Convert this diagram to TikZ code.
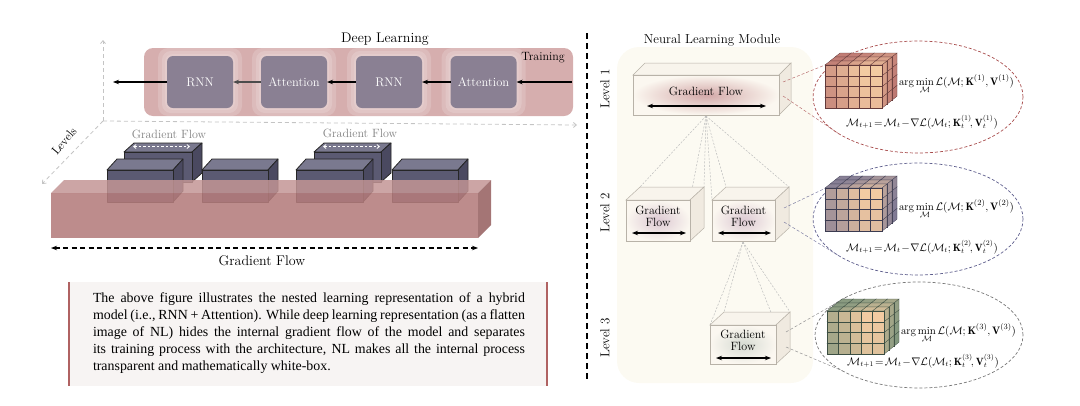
\documentclass[tikz,border=0pt]{standalone}
\usepackage{fontspec}
\usepackage{amsmath}
\newfontfamily\parafont{Liberation Serif}
\usetikzlibrary{arrows.meta,calc,shapes.geometric}
\definecolor{bandpink}{HTML}{D6AEAE}
\definecolor{boxgray}{HTML}{8A8093}
\definecolor{slabfront}{HTML}{B47C7C}
\definecolor{slabtop}{HTML}{C39595}
\definecolor{slabside}{HTML}{9A6666}
\definecolor{blkfront}{HTML}{5B5A72}
\definecolor{blktop}{HTML}{7A798F}
\definecolor{blkside}{HTML}{4A4960}
\definecolor{axisgray}{HTML}{C4C4C4}
\definecolor{parabg}{HTML}{F7F4F3}
\definecolor{parabar}{HTML}{B06262}
\definecolor{panelbg}{HTML}{FCFAF2}
\definecolor{lvedge}{HTML}{B8B2A8}
\definecolor{lvtop}{HTML}{F8F4EC}
\definecolor{lvside}{HTML}{F0EAE0}
\definecolor{lvout}{HTML}{FBF7F0}
\definecolor{lvoneC}{HTML}{D3A8A8}
\definecolor{lvtwoC}{HTML}{DCC8D2}
\definecolor{lvthreeC}{HTML}{D6DBD3}
\definecolor{ellred}{HTML}{A84C4C}
\definecolor{ellblue}{HTML}{5E5E8C}
\definecolor{ellgray}{HTML}{777777}
\definecolor{peach}{HTML}{F3CBA2}
\definecolor{tintred}{HTML}{B46A6A}
\definecolor{tintblue}{HTML}{6C6C92}
\definecolor{tintgreen}{HTML}{6E8E78}
\definecolor{fanc}{HTML}{BDBDBD}

\newcommand{\lvbox}[8]{%
 \coordinate (#1-ftl) at (#2,#3);
 \coordinate (#1-ftr) at (#2+#4,#3);
 \coordinate (#1-fbr) at (#2+#4,#3+#5);
 \coordinate (#1-fbl) at (#2,#3+#5);
 \coordinate (#1-btl) at (#2+#6,#3-#7);
 \coordinate (#1-btr) at (#2+#4+#6,#3-#7);
 \coordinate (#1-bbr) at (#2+#4+#6,#3+#5-#7);
 \coordinate (#1-bc) at (#2+#4/2,#3+#5);
 \filldraw[lvedge,fill=lvtop,line width=.5pt] (#1-ftl)--(#1-btl)--(#1-btr)--(#1-ftr)--cycle;
 \filldraw[lvedge,fill=lvside,line width=.5pt] (#1-ftr)--(#1-btr)--(#1-bbr)--(#1-fbr)--cycle;
 \shade[inner color=#8,outer color=lvout] (#1-ftl) rectangle (#1-fbr);
 \draw[lvedge,line width=.5pt] (#1-ftl) rectangle (#1-fbr);
}
\newcommand{\darkblock}[7]{%
 \coordinate (#1-ftl) at (#2,#3);
 \coordinate (#1-ftr) at (#2+#4,#3);
 \coordinate (#1-fbr) at (#2+#4,#3+#5);
 \coordinate (#1-btl) at (#2+#6,#3-#7);
 \coordinate (#1-btr) at (#2+#4+#6,#3-#7);
 \coordinate (#1-bbr) at (#2+#4+#6,#3+#5-#7);
 \filldraw[blkedge,fill=blktop] (#1-ftl)--(#1-btl)--(#1-btr)--(#1-ftr)--cycle;
 \filldraw[blkedge,fill=blkside] (#1-ftr)--(#1-btr)--(#1-bbr)--(#1-fbr)--cycle;
 \filldraw[blkedge,fill=blkfront] (#1-ftl) rectangle (#1-fbr);
}
\newcommand{\cubestack}[4]{%
 \coordinate (#4) at (#1,#2);
 \foreach \l in {2,1,0}{
  \foreach \r in {3,2,1,0}{
   \foreach \c in {0,...,4}{
    \pgfmathsetmacro{\X}{#1+\c*11.4+\l*5}
    \pgfmathsetmacro{\Y}{#2+\r*10.8-\l*4}
    \pgfmathtruncatemacro{\pp}{min(70,max(0,48-17*\c)+5*\r+15*\l)}
    \pgfmathtruncatemacro{\pt}{min(80,\pp+28)}
    \pgfmathtruncatemacro{\ps}{min(85,\pp+42)}
    \filldraw[draw=#3!55!black,line width=.25pt,fill=#3!\pt!peach] (\X,\Y) -- ++(5,-4) -- ++(11.4,0) -- ++(-5,4) -- cycle;
    \filldraw[draw=#3!55!black,line width=.25pt,fill=#3!\ps!peach] (\X+11.4,\Y) -- ++(5,-4) -- ++(0,10.8) -- ++(-5,4) -- cycle;
    \filldraw[draw=#3!55!black,line width=.25pt,fill=#3!\pp!peach] (\X,\Y) rectangle ++(11.4,10.8);
   }
  }
 }
}

\begin{document}
\begin{tikzpicture}[x=1pt,y=-1pt,
  every node/.style={inner sep=0pt,outer sep=0pt},
  dlbox/.style={fill=boxgray,rounded corners=6pt,minimum width=66pt,minimum height=52pt,text=white,font=\fontsize{12.5}{14}\selectfont},
  flowarrow/.style={-{Stealth[length=6pt,width=4.5pt]},line width=1.1pt,black},
  axisline/.style={dash pattern=on 4pt off 3pt,axisgray,line width=0.8pt,-{Straight Barb[length=3pt,width=5pt]}},
  blkedge/.style={draw=black!85,line width=.8pt,line join=round},
  twoarrow/.style={{Stealth[length=6pt,width=4.5pt]}-{Stealth[length=6pt,width=4.5pt]},line width=1.1pt,black},
  whitearrow/.style={{Straight Barb[length=2.5pt,width=4pt]}-{Straight Barb[length=2.5pt,width=4pt]},white,line width=.8pt,dash pattern=on 2.5pt off 2pt},
  fanline/.style={fanc,line width=.5pt,dash pattern=on 2pt off 1.5pt},
  ellline/.style={line width=.7pt,dash pattern=on 3pt off 2pt},
  lvtext/.style={font=\fontsize{12}{13}\selectfont,align=center},
  frm/.style={font=\fontsize{10.5}{12}\selectfont},
  frmb/.style={font=\fontsize{10.8}{13}\selectfont,anchor=west}
]
\useasboundingbox (0,0) rectangle (1080,405);

% ---------------- left panel: axes
\coordinate (ax0) at (103,121);
\coordinate (axup) at (103,40);
\coordinate (axright) at (577,125);
\coordinate (axdiag) at (42,184);
\draw[axisline] (ax0) -- (axup);
\draw[axisline] (ax0) -- (axright);
\draw[axisline] (ax0) -- (axdiag);
\node[rotate=50,font=\fontsize{12}{14}\selectfont] (levels) at (64,141) {Levels};

% ---------------- deep learning band
\node[fill=bandpink,rounded corners=9pt,minimum width=429pt,minimum height=68pt] (band) at (358.5,82) {};
\foreach \cx in {200,294,389,483.5}{
  \fill[white,opacity=.16,rounded corners=10pt] (\cx-42,82-34) rectangle (\cx+42,82+34);
  \fill[white,opacity=.16,rounded corners=9pt] (\cx-38,82-31) rectangle (\cx+38,82+31);
  \fill[white,opacity=.12,rounded corners=8pt] (\cx-35,82-28) rectangle (\cx+35,82+28);
}
\node[font=\fontsize{14}{16}\selectfont] (dltitle) at (385,39) {Deep Learning};
\node[font=\fontsize{12}{14}\selectfont] (training) at (543,58) {Training};
\node[dlbox] (rnn1) at (200,82) {RNN};
\node[dlbox] (att1) at (294,82) {Attention};
\node[dlbox] (rnn2) at (389,82) {RNN};
\node[dlbox] (att2) at (483.5,82) {Attention};
\coordinate (tin) at (572,82);
\coordinate (tout) at (113,82);
\draw[flowarrow] (tin) -- (att2.east);
\draw[flowarrow] (att2.west) -- (rnn2.east);
\draw[flowarrow] (rnn2.west) -- (att1.east);
\draw[flowarrow,black!70] (att1.west) -- (rnn1.east);
\draw[flowarrow] (rnn1.west) -- (tout);

% ---------------- blocks and slab
\darkblock{B}{124}{152}{68}{30}{10}{9}
\darkblock{A}{107}{170}{66}{32}{10}{11}
\darkblock{C}{202}{170}{66}{32}{10}{11}
\darkblock{E}{314}{152}{67}{30}{10}{9}
\darkblock{D}{296}{170}{67}{32}{10}{11}
\darkblock{F}{392}{170}{66}{32}{10}{11}
\coordinate (wa1) at (133,146.5);
\coordinate (wa2) at (190,146.5);
\coordinate (wb1) at (323,146.5);
\coordinate (wb2) at (380,146.5);
\draw[whitearrow] (wa1) -- (wa2);
\draw[whitearrow] (wb1) -- (wb2);
\node[font=\fontsize{12}{14}\selectfont,text=black!50] (gfa) at (169,134) {Gradient Flow};
\node[font=\fontsize{12}{14}\selectfont,text=black!50] (gfb) at (360,133) {Gradient Flow};

\coordinate (S-ftl) at (51,193);
\coordinate (S-ftr) at (478,193);
\coordinate (S-fbr) at (478,238);
\coordinate (S-btl) at (64,180);
\coordinate (S-btr) at (491,180);
\coordinate (S-bbr) at (491,225);
\fill[slabtop,fill opacity=.85] (S-ftl)--(S-btl)--(S-btr)--(S-ftr)--cycle;
\fill[slabside,fill opacity=.9] (S-ftr)--(S-btr)--(S-bbr)--(S-fbr)--cycle;
\fill[slabfront,fill opacity=.88] (S-ftl) rectangle (S-fbr);

\coordinate (ga1) at (51,248);
\coordinate (ga2) at (478,248);
\draw[twoarrow,dash pattern=on 5pt off 3.5pt] (ga1) -- (ga2);
\node[font=\fontsize{14}{16}\selectfont] (gfbottom) at (262,261) {Gradient Flow};

% ---------------- paragraph box
\fill[parabg] (69,282) rectangle (547,386);
\coordinate (pb1) at (69,282);
\coordinate (pb2) at (69,386);
\coordinate (pb3) at (547,282);
\coordinate (pb4) at (547,386);
\draw[parabar,line width=2.5pt] (pb1) -- (pb2);
\draw[parabar,line width=2.5pt] (pb3) -- (pb4);
\node[text width=432pt,align=justify,font=\parafont\fontsize{13.9}{17}\selectfont] (para) at (309,333)
 {The above figure illustrates the nested learning representation of a hybrid\linebreak
  model (i.e., RNN + Attention). While deep learning representation (as a flatten\linebreak
  image of NL) hides the internal gradient flow of the model and separates\linebreak
  its training process with the architecture, NL makes all the internal process\linebreak
  transparent and mathematically white-box.};

% ---------------- divider
\coordinate (dv1) at (587,33);
\coordinate (dv2) at (587,381);
\draw[line width=1.3pt,dash pattern=on 6pt off 4pt] (dv1) -- (dv2);

% ---------------- right panel
\fill[panelbg,rounded corners=22pt] (617,47) rectangle (813,383);
\node[font=\fontsize{13}{15}\selectfont] (nlm) at (712,40) {Neural Learning Module};
\node[rotate=90,font=\fontsize{13}{15}\selectfont] (lv1) at (605,89) {Level 1};
\node[rotate=90,font=\fontsize{13}{15}\selectfont] (lv2) at (605,213) {Level 2};
\node[rotate=90,font=\fontsize{13}{15}\selectfont] (lv3) at (605,338) {Level 3};

% fan lines (behind boxes)
\coordinate (apex1) at (706,116);
\coordinate (apex2) at (743,242);
\foreach \t in {(640,187),(690,200),(704,187),(712,200),(726,187),(789,187)}{
  \draw[fanline] (apex1) -- \t;
}
\foreach \t in {(710,325),(724,312),(776,325),(790,312)}{
  \draw[fanline] (apex2) -- \t;
}

\lvbox{L1}{633}{75}{146}{40}{12}{12}{lvoneC}
\lvbox{L2a}{626}{200}{64}{41}{14}{13}{lvtwoC}
\lvbox{L2b}{712}{200}{63}{41}{14}{13}{lvtwoC}
\lvbox{L3}{710}{325}{66}{39}{14}{13}{lvthreeC}

\node[lvtext] (t1) at (706,91) {Gradient Flow};
\coordinate (a1l) at (647,106);
\coordinate (a1r) at (766,106);
\draw[twoarrow] (a1l) -- (a1r);
\node[lvtext] (t2a) at (658,216.5) {Gradient\\[-1pt]Flow};
\coordinate (a2l) at (632,233);
\coordinate (a2r) at (686,233);
\draw[twoarrow] (a2l) -- (a2r);
\node[lvtext] (t2b) at (743.5,216.5) {Gradient\\[-1pt]Flow};
\coordinate (a3l) at (718,233);
\coordinate (a3r) at (771,233);
\draw[twoarrow] (a3l) -- (a3r);
\node[lvtext] (t3) at (743,340.5) {Gradient\\[-1pt]Flow};
\coordinate (a4l) at (716,358);
\coordinate (a4r) at (771,358);
\draw[twoarrow] (a4l) -- (a4r);

% ---------------- ellipses
\node[ellipse,draw=ellred,ellline,minimum width=210pt,minimum height=112pt] (e1) at (918,97) {};
\node[ellipse,draw=ellblue,ellline,minimum width=210pt,minimum height=112pt] (e2) at (918,219) {};
\node[ellipse,draw=ellgray,ellline,minimum width=208pt,minimum height=106pt] (e3) at (919,335) {};

\coordinate (s1a) at (783,82);
\coordinate (s1b) at (783,96);
\coordinate (s2a) at (784,208);
\coordinate (s2b) at (784,222);
\coordinate (s3a) at (786,332);
\coordinate (s3b) at (786,347);
\draw[ellred!80,ellline,line width=.5pt] (s1a) -- (e1.152);
\draw[ellred!80,ellline,line width=.5pt] (s1b) -- (e1.205);
\draw[ellblue!80,ellline,line width=.5pt] (s2a) -- (e2.152);
\draw[ellblue!80,ellline,line width=.5pt] (s2b) -- (e2.205);
\draw[ellgray!80,ellline,line width=.5pt] (s3a) -- (e3.152);
\draw[ellgray!80,ellline,line width=.5pt] (s3b) -- (e3.205);

% ---------------- cube stacks
\cubestack{825}{65}{tintred}{cs1}
\cubestack{825}{188}{tintblue}{cs2}
\cubestack{827}{311}{tintgreen}{cs3}

% ---------------- formulas
\node[frmb] (f1a) at (899,84) {$\displaystyle\arg\min_{\mathcal M}\mathcal L(\mathcal M;\mathbf K^{(1)},\mathbf V^{(1)})$};
\node[frm] (f1b) at (922,122) {$\mathcal M_{t+1}\!=\!\mathcal M_t\!-\!\nabla\mathcal L(\mathcal M_t;\mathbf K_t^{(1)}\!,\mathbf V_t^{(1)})$};
\node[frmb] (f2a) at (899,209) {$\displaystyle\arg\min_{\mathcal M}\mathcal L(\mathcal M;\mathbf K^{(2)},\mathbf V^{(2)})$};
\node[frm] (f2b) at (922,247) {$\mathcal M_{t+1}\!=\!\mathcal M_t\!-\!\nabla\mathcal L(\mathcal M_t;\mathbf K_t^{(2)}\!,\mathbf V_t^{(2)})$};
\node[frmb] (f3a) at (901,333) {$\displaystyle\arg\min_{\mathcal M}\mathcal L(\mathcal M;\mathbf K^{(3)},\mathbf V^{(3)})$};
\node[frm] (f3b) at (923,361) {$\mathcal M_{t+1}\!=\!\mathcal M_t\!-\!\nabla\mathcal L(\mathcal M_t;\mathbf K_t^{(3)}\!,\mathbf V_t^{(3)})$};
\end{tikzpicture}
\end{document}
